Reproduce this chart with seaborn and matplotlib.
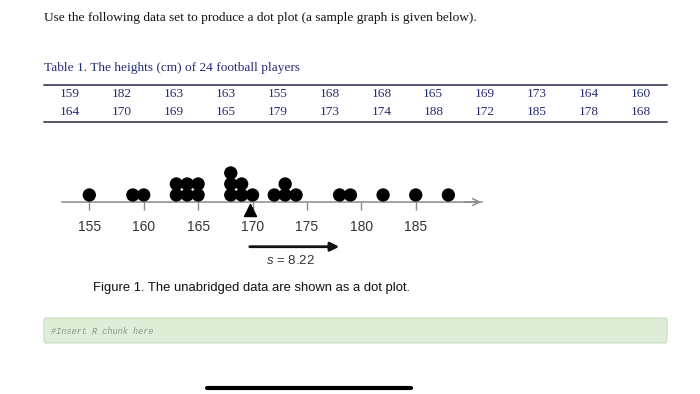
import numpy as np
import pandas as pd
import matplotlib.pyplot as plt
import seaborn as sns
from matplotlib.patches import FancyBboxPatch

# heights (cm) of 24 football players, as in Table 1 (two rows of 12)
row1 = [159, 182, 163, 163, 155, 168, 168, 165, 169, 173, 164, 160]
row2 = [164, 170, 169, 165, 179, 173, 174, 188, 172, 185, 178, 168]
ticks = [155, 160, 165, 170, 175, 180, 185]

df = pd.DataFrame({'height': row1 + row2})
df['level'] = df.groupby('height').cumcount()
mean = df['height'].mean()
sd = df['height'].std()

sns.set_theme(style='white')
plt.rcParams['font.family'] = ['Liberation Sans', 'DejaVu Sans']
plt.rcParams['mathtext.fontset'] = 'custom'
plt.rcParams['mathtext.it'] = 'Liberation Sans:italic'
plt.rcParams['mathtext.rm'] = 'Liberation Sans'

fig = plt.figure(figsize=(7, 3.94), dpi=100)
fig.patch.set_facecolor('white')

# page layer in pixel coordinates
bg = fig.add_axes([0, 0, 1, 1])
bg.set_xlim(0, 700)
bg.set_ylim(394, 0)
bg.axis('off')

navy = '#262b74'
serif = 'Liberation Serif'
bg.text(44, 18, 'Use the following data set to produce a dot plot (a sample graph is given below).',
        family=serif, fontsize=9.6, color='#111111', va='center', ha='left')
bg.text(44, 68, 'Table 1. The heights (cm) of 24 football players',
        family=serif, fontsize=9.6, color=navy, va='center', ha='left')
bg.plot([44, 667], [84.5, 84.5], color='#55566e', lw=1.4)
bg.plot([44, 667], [122, 122], color='#55566e', lw=1.4)
for i, (a, b) in enumerate(zip(row1, row2)):
    cx = 70 + i * 51.9
    bg.text(cx, 94, str(a), family=serif, fontsize=9.6, color=navy, ha='center', va='center')
    bg.text(cx, 112, str(b), family=serif, fontsize=9.6, color=navy, ha='center', va='center')

bg.text(93, 288, 'Figure 1. The unabridged data are shown as a dot plot.',
        fontsize=9.4, color='#111111', ha='left', va='center')

box = FancyBboxPatch((44, 318), 623, 25, boxstyle='round,pad=0,rounding_size=2',
                     facecolor='#ddedd6', edgecolor='#c8dcc0', lw=0.8)
bg.add_patch(box)
bg.text(51, 331, '#Insert R chunk here', family='Liberation Mono', style='italic',
        fontsize=6.2, color='#8c968a', ha='left', va='center')
bg.plot([207, 411], [388, 388], color='black', lw=3, solid_capstyle='round')

# dot plot
ax = fig.add_axes([62 / 700, (394 - 275) / 394, 420 / 700, 115 / 394])
ax.set_facecolor('none')
axis_y = -0.64
sns.scatterplot(data=df, x='height', y='level', color='black', s=92,
                edgecolor='none', legend=False, ax=ax, zorder=3)
ax.set_xlim(152.49, 191.09)
ax.set_ylim(-7.27, 3.18)

for side in ['top', 'right', 'left']:
    ax.spines[side].set_visible(False)
ax.spines['bottom'].set_position(('data', axis_y))
ax.spines['bottom'].set_color('#8a8a8a')
ax.spines['bottom'].set_linewidth(1.1)
ax.annotate('', xy=(191.0, axis_y), xytext=(189.5, axis_y),
            arrowprops=dict(arrowstyle='->', color='#8a8a8a', lw=1.1,
                            mutation_scale=12, shrinkA=0, shrinkB=0))
ax.set_xticks(ticks)
ax.set_xticklabels([str(t) for t in ticks])
ax.set_yticks([])
ax.tick_params(axis='x', direction='out', length=5.8, width=1.0, color='#8a8a8a',
               pad=7, labelsize=10, labelcolor='#333333', bottom=True)
ax.set_xlabel('')
ax.set_ylabel('')

ax.scatter([mean], [-1.36], marker='^', s=75, color='black', zorder=4)
ax.annotate('', xy=(mean + sd, -4.7), xytext=(mean, -4.7),
            arrowprops=dict(arrowstyle='-|>', color='#111111', lw=2,
                            mutation_scale=13, shrinkA=0, shrinkB=0))
ax.text(mean + sd * 0.45, -5.95, f'$\\it{{s}}$ = {sd:.2f}', fontsize=9.5,
        color='#333333', ha='center', va='center')

plt.savefig('out.png', dpi=100, facecolor='white')
